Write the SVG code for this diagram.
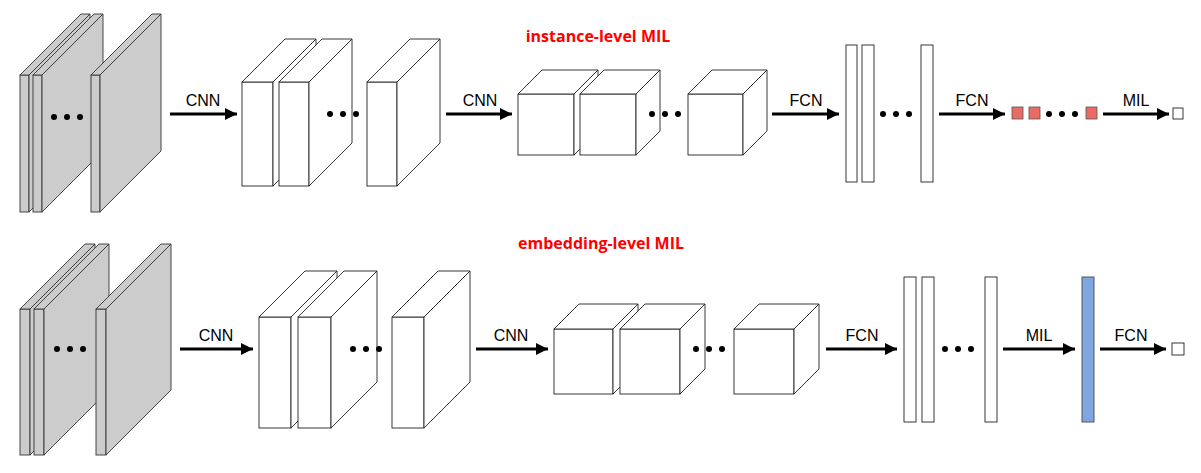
<svg xmlns="http://www.w3.org/2000/svg" width="1201" height="473" viewBox="0 0 1201 473">
<style>
.g{fill:#cccccc;stroke:#333;stroke-width:0.9}
.w{fill:#fff;stroke:#222;stroke-width:0.9}
.lbl{font-family:"Liberation Sans",Arial,sans-serif;font-size:16px;text-anchor:middle;fill:#000}
.ttl{font-family:"Open Sans","Liberation Sans",sans-serif;font-weight:bold;font-size:16px;text-anchor:middle;fill:#ff0000}
.arr{stroke:#000;stroke-width:3;fill:none;marker-end:url(#ah)}
.dot{fill:#000}
.red{fill:#ea6b66;stroke:#555;stroke-width:0.8}
.blue{fill:#7ea6e0;stroke:#555;stroke-width:1}
</style>
<defs>
<marker id="ah" markerUnits="userSpaceOnUse" markerWidth="14" markerHeight="14" refX="12" refY="6" orient="auto"><path d="M0,0 L12,6 L0,12 Z" fill="#000"/></marker>
<symbol id="dots" overflow="visible"><circle cx="0" cy="0" r="3"/><circle cx="13" cy="0" r="3"/><circle cx="26" cy="0" r="3"/></symbol>
</defs>
<rect width="1201" height="473" fill="#fff"/>
<text class="ttl" x="598" y="42">instance-level MIL</text>
<text class="ttl" x="601" y="249">embedding-level MIL</text>

<g id="input-top">
<g class="g"><rect x="20" y="75" width="9" height="137"/><polygon points="20,75 81,14 90,14 29,75"/><polygon points="29,75 90,14 90,151 29,212"/></g>
<g class="g"><rect x="33" y="75" width="9" height="137"/><polygon points="33,75 94,14 103,14 42,75"/><polygon points="42,75 103,14 103,151 42,212"/></g>
<g class="g"><rect x="91" y="75" width="9" height="137"/><polygon points="91,75 152,14 161,14 100,75"/><polygon points="100,75 161,14 161,151 100,212"/></g>
<use href="#dots" x="54" y="117" class="dot"/>
</g>
<g id="conv1-top">
<g class="w"><rect x="242" y="82" width="31" height="104"/><polygon points="242,82 285,39 316,39 273,82"/><polygon points="273,82 316,39 316,143 273,186"/></g>
<g class="w"><rect x="279" y="82" width="30" height="104"/><polygon points="279,82 322,39 352,39 309,82"/><polygon points="309,82 352,39 352,143 309,186"/></g>
<g class="w"><rect x="367" y="82" width="30" height="104"/><polygon points="367,82 410,39 440,39 397,82"/><polygon points="397,82 440,39 440,143 397,186"/></g>
<use href="#dots" x="330" y="114" class="dot"/>
</g>
<g id="conv2-top">
<g class="w"><rect x="518" y="94" width="56" height="61"/><polygon points="518,94 542,70 598,70 574,94"/><polygon points="574,94 598,70 598,131 574,155"/></g>
<g class="w"><rect x="580" y="94" width="56" height="61"/><polygon points="580,94 604,70 660,70 636,94"/><polygon points="636,94 660,70 660,131 636,155"/></g>
<g class="w"><rect x="688" y="94" width="55" height="61"/><polygon points="688,94 712,70 767,70 743,94"/><polygon points="743,94 767,70 767,131 743,155"/></g>
<use href="#dots" x="652" y="114" class="dot"/>
</g>
<g id="fc-top">
<rect class="w" x="846" y="45" width="11" height="137"/>
<rect class="w" x="862" y="45" width="12" height="137"/>
<rect class="w" x="921" y="45" width="12" height="137"/>
<use href="#dots" x="883" y="114" class="dot"/>
</g>
<g id="scores-top">
<rect class="red" x="1012" y="107" width="11" height="12"/>
<rect class="red" x="1029" y="107" width="11" height="12"/>
<rect class="red" x="1086" y="107" width="11" height="12"/>
<use href="#dots" x="1049" y="114" class="dot"/>
</g>
<g id="out-top"><rect class="w" x="1173" y="108" width="10" height="11"/></g>

<g id="input-bot">
<g class="g"><rect x="20" y="309" width="10" height="146"/><polygon points="20,309 85,244 95,244 30,309"/><polygon points="30,309 95,244 95,390 30,455"/></g>
<g class="g"><rect x="34" y="309" width="10" height="146"/><polygon points="34,309 99,244 109,244 44,309"/><polygon points="44,309 109,244 109,390 44,455"/></g>
<g class="g"><rect x="96" y="309" width="10" height="146"/><polygon points="96,309 161,244 171,244 106,309"/><polygon points="106,309 171,244 171,390 106,455"/></g>
<use href="#dots" x="57" y="349" class="dot"/>
</g>
<g id="conv1-bot">
<g class="w"><rect x="259" y="317" width="32" height="111"/><polygon points="259,317 305,271 337,271 291,317"/><polygon points="291,317 337,271 337,382 291,428"/></g>
<g class="w"><rect x="298" y="317" width="33" height="111"/><polygon points="298,317 344,271 377,271 331,317"/><polygon points="331,317 377,271 377,382 331,428"/></g>
<g class="w"><rect x="392" y="317" width="32" height="111"/><polygon points="392,317 438,271 470,271 424,317"/><polygon points="424,317 470,271 470,382 424,428"/></g>
<use href="#dots" x="353" y="349" class="dot"/>
</g>
<g id="conv2-bot">
<g class="w"><rect x="554" y="329" width="59" height="65"/><polygon points="554,329 579,304 638,304 613,329"/><polygon points="613,329 638,304 638,369 613,394"/></g>
<g class="w"><rect x="620" y="329" width="60" height="65"/><polygon points="620,329 645,304 705,304 680,329"/><polygon points="680,329 705,304 705,369 680,394"/></g>
<g class="w"><rect x="734" y="329" width="60" height="65"/><polygon points="734,329 759,304 819,304 794,329"/><polygon points="794,329 819,304 819,369 794,394"/></g>
<use href="#dots" x="696" y="349" class="dot"/>
</g>
<g id="fc-bot">
<rect class="w" x="904" y="277" width="12" height="145"/>
<rect class="w" x="922" y="277" width="12" height="145"/>
<rect class="w" x="985" y="277" width="12" height="145"/>
<use href="#dots" x="945" y="349" class="dot"/>
</g>
<g id="embed-bot"><rect class="blue" x="1082" y="277" width="12" height="145"/></g>
<g id="out-bot"><rect class="w" x="1172" y="343" width="12" height="12"/></g>

<g id="connectors">
<line class="arr" x1="170" y1="114" x2="237" y2="114"/>
<line class="arr" x1="446" y1="114" x2="512" y2="114"/>
<line class="arr" x1="772" y1="114" x2="839" y2="114"/>
<line class="arr" x1="939" y1="114" x2="1005" y2="114"/>
<line class="arr" x1="1103" y1="114" x2="1169" y2="114"/>
<line class="arr" x1="180" y1="349" x2="253" y2="349"/>
<line class="arr" x1="476" y1="349" x2="548" y2="349"/>
<line class="arr" x1="826" y1="349" x2="897" y2="349"/>
<line class="arr" x1="1003" y1="349" x2="1075" y2="349"/>
<line class="arr" x1="1100" y1="349" x2="1166" y2="349"/>
<text class="lbl" x="203" y="106">CNN</text>
<text class="lbl" x="480" y="106">CNN</text>
<text class="lbl" x="806" y="106">FCN</text>
<text class="lbl" x="972" y="106">FCN</text>
<text class="lbl" x="1136" y="106">MIL</text>
<text class="lbl" x="216" y="341">CNN</text>
<text class="lbl" x="511" y="341">CNN</text>
<text class="lbl" x="862" y="341">FCN</text>
<text class="lbl" x="1039" y="341">MIL</text>
<text class="lbl" x="1131" y="341">FCN</text>
</g>
</svg>
